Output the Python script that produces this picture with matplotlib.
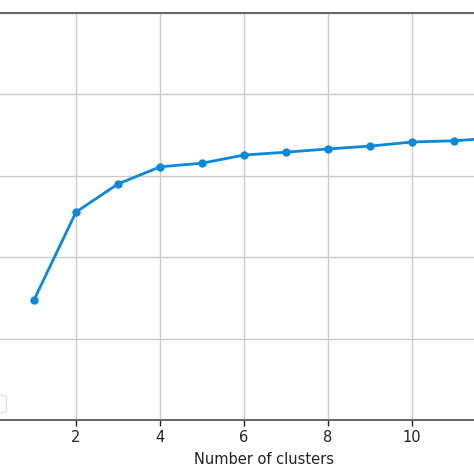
import matplotlib
matplotlib.use("Agg")
import matplotlib.pyplot as plt

# Data
n_clusters = [1, 2, 3, 4, 5, 6, 7, 8, 9, 10, 11, 12]
scores = [0.295, 0.511, 0.580, 0.622, 0.631, 0.651, 0.658, 0.666, 0.673, 0.683, 0.686, 0.693]
xticks = [2, 4, 6, 8, 10]
yticks = [0.0, 0.2, 0.4, 0.6, 0.8, 1.0]

W = H = 474
fig = plt.figure(figsize=(W / 100, H / 100), dpi=100)
ax_bottom = (H - 420) / H
ax_top = (H - 13) / H
ax = fig.add_axes([0.0, ax_bottom, 1.0, ax_top - ax_bottom])

line_color = "#0a88dc"
ax.plot(n_clusters, scores, color=line_color, linewidth=2.0, marker="o",
        markersize=5, label=" ")

ax.set_xlim(0.19, 11.476)
ax.set_ylim(0.0, 1.0)
ax.set_xticks(xticks)
ax.set_yticks(yticks)
ax.grid(True, color="#cbcbcb", linewidth=1.0)
ax.set_axisbelow(True)

for side in ("left", "right"):
    ax.spines[side].set_visible(False)
for side in ("top", "bottom"):
    ax.spines[side].set_color("#555a5a")
    ax.spines[side].set_linewidth(1.3)

ax.tick_params(axis="x", colors="#222222", labelsize=10.5, length=4, width=1)
ax.tick_params(axis="y", length=0, labelleft=False)

ax.set_xlabel("Number of clusters", fontsize=10.5, color="#222222")
ax.xaxis.set_label_coords(264 / W, -(452 - 420) / 407)

# legend box sits almost entirely beyond the left edge, as in the cropped source
leg = ax.legend(loc="lower right", bbox_to_anchor=(10 / W, 4 / 407),
                bbox_transform=ax.transAxes, fontsize=6, frameon=True,
                borderpad=0.5, handlelength=1.5)
leg.get_frame().set_edgecolor("#dddddd")

fig.savefig("out.png", dpi=100)
